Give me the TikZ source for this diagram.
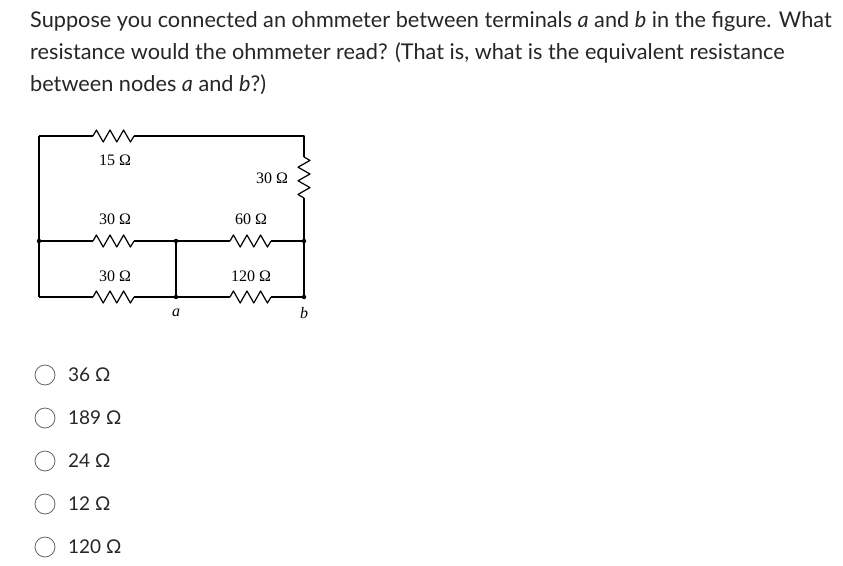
\documentclass[tikz,border=0pt]{standalone}
\usepackage{fontspec}
\setmainfont{Lato}
\newfontfamily\circfont{Liberation Serif}
\begin{document}
\begin{tikzpicture}[x=1pt,y=-1pt,
  wire/.style={line width=1.2pt,line join=round},
  clab/.style={font=\circfont\fontsize{16}{18}\selectfont,inner sep=0pt},
  qtext/.style={anchor=west,inner sep=0pt,font=\fontsize{21.7}{24}\selectfont,text=black!85},
  opt/.style={anchor=west,inner sep=0pt,font=\fontsize{19}{22}\selectfont,text=black!85},
  radio/.style={circle,draw=black!60,line width=0.8pt,minimum size=20pt,inner sep=0pt},
  hres/.pic={\draw[wire] (0,0)--(3.4,-6)--(10.2,6)--(17,-6)--(23.8,6)--(30.6,-6)--(37.4,6)--(41,0);},
  vres/.pic={\draw[wire] (0,0)--(6,3.4)--(-6,10.2)--(6,17)--(-6,23.8)--(6,30.6)--(-6,37.4)--(0,41);},
  dot/.style={circle,fill,inner sep=0pt,minimum size=4.5pt}]
\useasboundingbox (0,0) rectangle (843,565);
\node[qtext] (q1) at (30,21) {Suppose you connected an ohmmeter between terminals \textit{a} and \textit{b} in the figure. What};
\node[qtext] (q2) at (30,53) {resistance would the ohmmeter read? (That is, what is the equivalent resistance};
\node[qtext] (q3) at (30,85) {between nodes \textit{a} and \textit{b}?)};
% circuit
\coordinate (TL) at (39,136); \coordinate (TR) at (304,136);
\coordinate (ML) at (39,241); \coordinate (MR) at (304,241);
\coordinate (BL) at (39,297); \coordinate (BR) at (304,297);
\coordinate (MA) at (176,241); \coordinate (A) at (176,297);
\draw[wire] (TL) -- (93,136); \draw[wire] (134,136) -- (TR) -- (304,157);
\draw[wire] (304,198) -- (BR);
\draw[wire] (TL) -- (BL);
\draw[wire] (ML) -- (93,241); \draw[wire] (134,241) -- (230,241); \draw[wire] (271,241) -- (MR);
\draw[wire] (BL) -- (93,297); \draw[wire] (134,297) -- (230,297); \draw[wire] (271,297) -- (BR);
\draw[wire] (MA) -- (A);
\pic at (93,136) {hres}; \pic at (93,241) {hres}; \pic at (93,297) {hres};
\pic at (230,241) {hres}; \pic at (230,297) {hres};
\pic at (304,157) {vres};
\node[dot] (d1) at (ML) {}; \node[dot] (d2) at (MA) {}; \node[dot] (d3) at (MR) {};
\node[dot] (d4) at (A) {}; \node[dot] (d5) at (BR) {};
\node[clab] (l1) at (115,160) {15 Ω};
\node[clab] (l2) at (272,178) {30 Ω};
\node[clab] (l3) at (115,219) {30 Ω};
\node[clab] (l4) at (251,219) {60 Ω};
\node[clab] (l5) at (115,276) {30 Ω};
\node[clab] (l6) at (251,276) {120 Ω};
\node[clab,font=\circfont\itshape\fontsize{16}{18}\selectfont] (la) at (176,313) {a};
\node[clab,font=\circfont\itshape\fontsize{16}{18}\selectfont] (lb) at (304,313) {b};
% options
\foreach \y/\t [count=\i] in {375/36 Ω,418/189 Ω,461/24 Ω,504/12 Ω,547/120 Ω}{
  \node[radio] (r\i) at (45,\y) {};
  \node[opt] (o\i) at (68,\y) {\t};
}
\end{tikzpicture}
\end{document}
